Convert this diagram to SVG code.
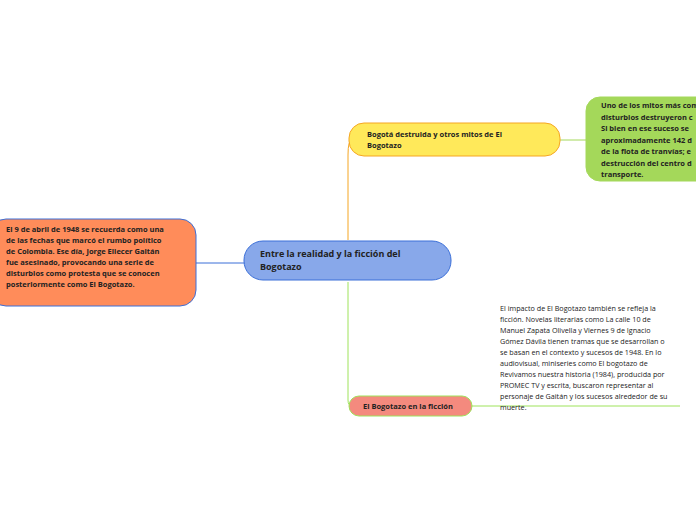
<svg xmlns="http://www.w3.org/2000/svg" width="696" height="520" viewBox="0 0 696 520">
<style>
text{font-family:"Open Sans","Noto Sans","Liberation Sans",sans-serif;fill:#222}
.b{font-weight:bold;font-size:8px}
.n{font-size:7.5px}
.c{fill:none;stroke-width:1}
</style>
<rect width="696" height="520" fill="#fff"/>
<g id="connectors">
<path class="c" d="M196,263 H245" stroke="#3b6fd8"/>
<path class="c" d="M348,240 V155 Q348,140 352,140" stroke="#f5a623"/>
<path class="c" d="M560,140 H586" stroke="#a4d85a"/>
<path class="c" d="M348,282 V400 Q348,406 352,406" stroke="#9ee35a"/>
<path class="c" d="M472,406 H680" stroke="#9ee35a"/>
</g>
<g id="central">
<rect x="244" y="241" width="207" height="39" rx="19" fill="#88a8ea" stroke="#3b6fd8"/>
<text class="b" font-size="9" x="260" y="257" style="font-size:9px">Entre la realidad y la ficción del</text>
<text class="b" x="260" y="270" style="font-size:9px">Bogotazo</text>
</g>
<g id="left">
<rect x="-10" y="219" width="206" height="87" rx="16" fill="#ff8c5a" stroke="#3b6fd8"/>
<text class="b" style="font-size:7.5px"><tspan x="6" y="232">El 9 de abril de 1948 se recuerda como una</tspan><tspan x="6" y="243">de las fechas que marcó el rumbo político</tspan><tspan x="6" y="254">de Colombia. Ese día, Jorge Eliecer Gaitán</tspan><tspan x="6" y="265">fue asesinado, provocando una serie de</tspan><tspan x="6" y="276">disturbios como protesta que se conocen</tspan><tspan x="6" y="287">posteriormente como El Bogotazo.</tspan></text>
</g>
<g id="mitos">
<rect x="349" y="123" width="211" height="33" rx="15" fill="#ffe95a" stroke="#f5a623"/>
<text class="b" style="font-size:7.5px"><tspan x="367" y="137">Bogotá destruida y otros mitos de El</tspan><tspan x="367" y="148">Bogotazo</tspan></text>
</g>
<g id="mito-detalle">
<rect x="586" y="97" width="130" height="84" rx="14" fill="#a4d85a" stroke="#a4d85a"/>
<text class="b" style="font-size:7.5px"><tspan x="601" y="108">Uno de los mitos más com</tspan><tspan x="601" y="120">disturbios destruyeron c</tspan><tspan x="601" y="131">Si bien en ese suceso se</tspan><tspan x="601" y="143">aproximadamente 142 d</tspan><tspan x="601" y="154">de la flota de tranvías; e</tspan><tspan x="601" y="166">destrucción del centro d</tspan><tspan x="601" y="177">transporte.</tspan></text>
</g>
<g id="ficcion">
<rect x="349" y="396" width="123" height="20" rx="10" fill="#f48a7e" stroke="#9ee35a"/>
<text class="b" x="363" y="409" style="font-size:7.5px">El Bogotazo en la ficción</text>
</g>
<g id="ficcion-detalle">
<text class="n" style="font-size:7.2px"><tspan x="500" y="311">El impacto de El Bogotazo también se refleja la</tspan><tspan x="500" y="322">ficción. Novelas literarias como La calle 10 de</tspan><tspan x="500" y="333">Manuel Zapata Olivella y Viernes 9 de Ignacio</tspan><tspan x="500" y="344">Gómez Dávila tienen tramas que se desarrollan o</tspan><tspan x="500" y="355">se basan en el contexto y sucesos de 1948. En lo</tspan><tspan x="500" y="366">audiovisual, miniseries como El bogotazo de</tspan><tspan x="500" y="377">Revivamos nuestra historia (1984), producida por</tspan><tspan x="500" y="388">PROMEC TV y escrita, buscaron representar al</tspan><tspan x="500" y="399">personaje de Gaitán y los sucesos alrededor de su</tspan><tspan x="500" y="410">muerte.</tspan></text>
</g>
</svg>
